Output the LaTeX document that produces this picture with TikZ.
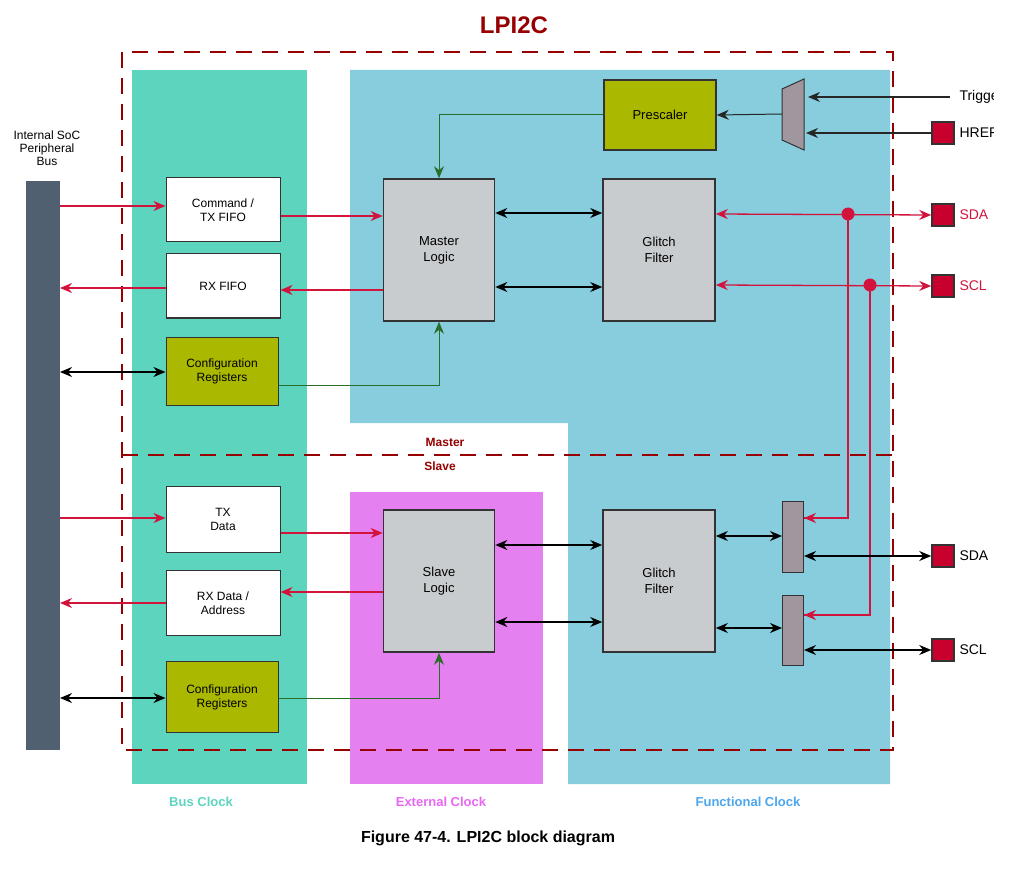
\documentclass[tikz,border=0pt]{standalone}
\usepackage{fontspec}
\setmainfont{Liberation Sans}
\usetikzlibrary{arrows.meta,positioning}
\definecolor{busgreen}{RGB}{93,213,190}
\definecolor{funblue}{RGB}{135,205,222}
\definecolor{extpink}{RGB}{228,128,240}
\definecolor{olive}{RGB}{170,185,0}
\definecolor{blockgray}{RGB}{200,204,206}
\definecolor{muxgray}{RGB}{160,150,158}
\definecolor{darkred}{RGB}{150,0,0}
\definecolor{sigred}{RGB}{210,20,60}
\definecolor{padred}{RGB}{200,0,45}
\definecolor{wiregreen}{RGB}{40,110,40}
\definecolor{busbar}{RGB}{80,96,112}
\tikzset{
  box/.style={draw=black!80,line width=1pt,fill=white,align=center,font=\fontsize{12}{14}\selectfont},
  cfg/.style={box,fill=olive},
  blk/.style={draw=black!80,line width=1.6pt,fill=blockgray,align=center,font=\fontsize{13}{16}\selectfont},
  mux/.style={draw=black!80,line width=1pt,fill=muxgray},
  pad/.style={draw=black!80,line width=1.5pt,fill=padred,minimum size=22pt,inner sep=0pt},
  tip/.style={{Stealth[length=12pt,width=10pt]}},
  one/.style={line width=1.3pt,-{Stealth[length=12pt,width=10pt]}},
  two/.style={line width=1.3pt,{Stealth[length=12pt,width=10pt]}-{Stealth[length=12pt,width=10pt]}},
  clk/.style={font=\fontsize{13}{15}\selectfont\bfseries},
}
\begin{document}
\begin{tikzpicture}[x=1pt,y=-1pt]
\useasboundingbox (0,0) rectangle (1011,874);
\begin{scope}
\clip (0,0) rectangle (993,874);
% clock domains
\fill[busgreen] (132,70) rectangle (307,784);
\fill[funblue] (350,70) -- (890,70) -- (890,784) -- (568,784) -- (568,423) -- (350,423) -- cycle;
\fill[extpink] (350,492) rectangle (543,784);
\fill[busbar] (26,181) rectangle (60,750);
\draw[darkred,line width=2.2pt,dash pattern=on 16pt off 10pt] (122,52) rectangle (893,750);
\draw[darkred,line width=2.2pt,dash pattern=on 16pt off 10pt] (122,455) -- (893,455);
\node[text=darkred,font=\fontsize{24}{28}\selectfont\bfseries] at (514,25) {LPI2C};
\node[text=darkred,font=\fontsize{12}{14}\selectfont\bfseries] at (445,442) {Master};
\node[text=darkred,font=\fontsize{12}{14}\selectfont\bfseries] at (440,466) {Slave};
\node[align=center,font=\fontsize{12}{13}\selectfont] at (47,148) {Internal SoC\\Peripheral\\Bus};
% bus side
\coordinate (bus) at (60,0);
\node[box,minimum width=114pt,minimum height=64pt] (cmd) at (223,210) {Command /\\TX FIFO};
\node[box,minimum width=114pt,minimum height=64pt] (rxf) at (223,286) {RX FIFO};
\node[cfg,minimum width=112pt,minimum height=68pt] (cfgm) at (222,371) {Configuration\\Registers};
\node[box,minimum width=114pt,minimum height=66pt] (txd) at (223,519) {TX\\Data};
\node[box,minimum width=114pt,minimum height=65pt] (rxd) at (223,603) {RX Data /\\Address};
\node[cfg,minimum width=112pt,minimum height=71pt] (cfgs) at (222,697) {Configuration\\Registers};
% logic
\node[blk,minimum width=111pt,minimum height=142pt] (mst) at (439,250) {Master\\Logic};
\node[blk,minimum width=112pt,minimum height=142pt] (gfm) at (659,250) {Glitch\\Filter};
\node[cfg,line width=1.5pt,font=\fontsize{13}{15}\selectfont,minimum width=112pt,minimum height=70pt] (pre) at (660,115) {Prescaler};
\node[blk,minimum width=111pt,minimum height=142pt] (slv) at (439,581) {Slave\\Logic};
\node[blk,minimum width=112pt,minimum height=142pt] (gfs) at (659,581) {Glitch\\Filter};
\draw[mux] (782,89) -- (804,79) -- (804,150) -- (782,140) -- cycle;
\node[inner sep=0pt] (msel) at (793,114) {};
\node[mux,minimum width=21pt,minimum height=71pt,inner sep=0pt] (mx1) at (793,537) {};
\node[mux,minimum width=21pt,minimum height=70pt,inner sep=0pt] (mx2) at (793,630) {};
% pins
\node[pad] (href) at (943,133) {};
\node[pad] (sdam) at (943,215) {};
\node[pad] (sclm) at (943,286) {};
\node[pad] (sdas) at (943,556) {};
\node[pad] (scls) at (943,650) {};
\node[anchor=west,font=\fontsize{14}{16}\selectfont] at (956,97) {Trigger};
\node[anchor=west,font=\fontsize{14}{16}\selectfont] at (956,133) {HREF};
\node[anchor=west,text=sigred,font=\fontsize{14}{16}\selectfont] at (956,215) {SDA};
\node[anchor=west,text=sigred,font=\fontsize{14}{16}\selectfont] at (956,286) {SCL};
\node[anchor=west,font=\fontsize{14}{16}\selectfont] at (956,556) {SDA};
\node[anchor=west,font=\fontsize{14}{16}\selectfont] at (956,650) {SCL};
\coordinate (trig) at (950,97);
% trigger path
\draw[one,black!85] (trig) -- (808,97);
\draw[one,black!85] (href.west) -- (806,133);
\draw[one,black!85,line width=1pt] (782,114) -- (pre.east);
\draw[one,wiregreen,line width=1pt] (pre.west) -| (mst.north);
\draw[one,wiregreen,line width=1pt] (cfgm.east |- 0,385) -| (mst.south);
\draw[one,wiregreen,line width=1pt] (cfgs.east |- 0,698) -| (slv.south);
% bus transfers
\draw[one,sigred] (bus |- 0,206) -- (cmd.west |- 0,206);
\draw[one,sigred] (cmd.east |- 0,216) -- (mst.west |- 0,216);
\draw[one,sigred] (mst.west |- 0,290) -- (rxf.east |- 0,290);
\draw[one,sigred] (rxf.west |- 0,288) -- (bus |- 0,288);
\draw[two] (bus |- 0,372) -- (cfgm.west |- 0,372);
\draw[one,sigred] (bus |- 0,518) -- (txd.west |- 0,518);
\draw[one,sigred] (txd.east |- 0,533) -- (slv.west |- 0,533);
\draw[one,sigred] (slv.west |- 0,592) -- (rxd.east |- 0,592);
\draw[one,sigred] (rxd.west |- 0,603) -- (bus |- 0,603);
\draw[two] (bus |- 0,698) -- (cfgs.west |- 0,698);
% logic to filters
\draw[two] (mst.east |- 0,213) -- (gfm.west |- 0,213);
\draw[two] (mst.east |- 0,287) -- (gfm.west |- 0,287);
\draw[two] (slv.east |- 0,545) -- (gfs.west |- 0,545);
\draw[two] (slv.east |- 0,622) -- (gfs.west |- 0,622);
\draw[two] (gfs.east |- 0,536) -- (mx1.west |- 0,536);
\draw[two] (gfs.east |- 0,628) -- (mx2.west |- 0,628);
% pin lines
\coordinate (jsda) at (848,214);
\coordinate (jscl) at (870,285);
\draw[sigred,line width=1.3pt] (jsda) |- (mx1.east |- 0,518);
\draw[sigred,line width=1.3pt] (jscl) |- (mx2.east |- 0,615);
\draw[sigred,line width=1.3pt,{Stealth[length=12pt,width=10pt]}-] (mx1.east |- 0,518) -- ++(12,0);
\draw[sigred,line width=1.3pt,{Stealth[length=12pt,width=10pt]}-] (mx2.east |- 0,615) -- ++(12,0);
\draw[two,sigred] (gfm.east |- 0,214) -- (sdam.west);
\draw[two,sigred] (gfm.east |- 0,285) -- (sclm.west);
\fill[sigred] (jsda) circle (6.5pt) (jscl) circle (6.5pt);
\draw[two] (mx1.east |- 0,556) -- (sdas.west);
\draw[two] (mx2.east |- 0,650) -- (scls.west);
% clock labels
\node[clk,text=busgreen] at (201,802) {Bus Clock};
\node[clk,text=extpink!80!magenta] at (441,802) {External Clock};
\node[clk,text=funblue!70!blue!80!cyan] at (748,802) {Functional Clock};
\node[font=\fontsize{16}{18}\selectfont\bfseries] at (488,838) {Figure 47-4. LPI2C block diagram};
\end{scope}
\end{tikzpicture}
\end{document}
